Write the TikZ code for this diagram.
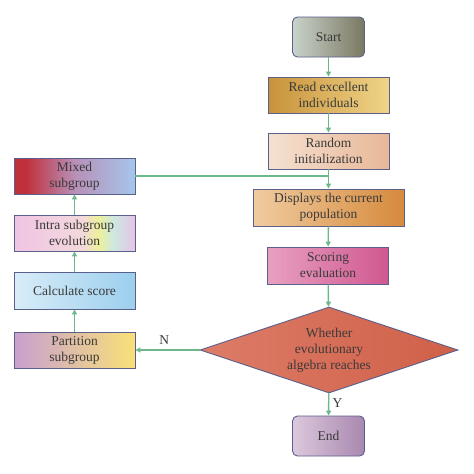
\documentclass[tikz,border=0pt]{standalone}
\usepackage{fontspec}
\setmainfont{Liberation Serif}
\usetikzlibrary{shapes.geometric,arrows.meta}
\definecolor{bord}{HTML}{5A5F8C}
\definecolor{arr}{HTML}{6CB88A}
\definecolor{txt}{HTML}{3A3A3A}
\definecolor{HLc1}{HTML}{F0C4E4}
\definecolor{HLc2}{HTML}{F2D8DC}
\definecolor{HLc3}{HTML}{EEF09A}
\definecolor{HLc4}{HTML}{CDE8E0}
\definecolor{HLc5}{HTML}{E4C4E8}
\definecolor{MXc1}{HTML}{C0303C}
\definecolor{MXc2}{HTML}{B890B8}
\definecolor{MXc3}{HTML}{A4C6EC}
\pgfdeclarehorizontalshading{intrashade}{100bp}{color(0bp)=(HLc1); color(25bp)=(HLc1); color(53bp)=(HLc2); color(60bp)=(HLc3); color(66bp)=(HLc4); color(75bp)=(HLc5); color(100bp)=(HLc5)}
\pgfdeclarehorizontalshading{mixedshade}{100bp}{color(0bp)=(MXc1); color(25bp)=(MXc1); color(30bp)=(MXc1); color(50bp)=(MXc2); color(75bp)=(MXc3); color(100bp)=(MXc3)}
\tikzset{
  box/.style={draw=bord, line width=0.9pt, minimum width=121pt, minimum height=36pt, align=center, text=txt, font=\fontsize{13.5}{16}\selectfont, inner sep=1pt},
  term/.style={box, rounded corners=5pt, minimum width=72pt, minimum height=40pt},
  flow/.style={draw=arr, line width=1.4pt, -{Triangle[length=5pt,width=5pt]}},
  flowline/.style={draw=arr, line width=1.4pt},
  lab/.style={text=txt, font=\fontsize{13.5}{16}\selectfont}
}
\begin{document}
\begin{tikzpicture}[x=1pt,y=-1pt]
\useasboundingbox (0,0) rectangle (474,474);
\fill[white] (0,0) rectangle (474,474);
\node[term, left color={rgb,255:red,201;green,211;blue,203}, right color={rgb,255:red,122;green,120;blue,96}] (start) at (328.5,37) {Start};
\node[box, left color={rgb,255:red,200;green,146;blue,58}, right color={rgb,255:red,240;green,212;blue,136}] (read) at (328.5,95) {Read excellent\\individuals};
\node[box, left color={rgb,255:red,245;green,224;blue,208}, right color={rgb,255:red,232;green,184;blue,152}] (rand) at (328.5,151) {Random\\initialization};
\node[box, minimum width=151pt, minimum height=37pt, left color={rgb,255:red,240;green,204;blue,160}, right color={rgb,255:red,214;green,138;blue,60}] (disp) at (328.5,207.5) {Displays the current\\population};
\node[box, minimum height=37pt, left color={rgb,255:red,232;green,160;blue,192}, right color={rgb,255:red,208;green,88;blue,144}] (score) at (328,265.5) {Scoring\\evaluation};
\node[draw=bord, line width=0.9pt, diamond, aspect=3, minimum width=258pt, minimum height=86pt, inner sep=0pt, left color={rgb,255:red,220;green,124;blue,104}, right color={rgb,255:red,208;green,96;blue,72}, align=center, text=txt, font=\fontsize{13.5}{16}\selectfont] (dec) at (329,350) {Whether\\evolutionary\\algebra reaches};
\node[term, minimum height=40pt, left color={rgb,255:red,220;green,200;blue,220}, right color={rgb,255:red,168;green,136;blue,176}] (end) at (328.5,436) {End};
\node[box, shading=mixedshade] (mixed) at (74.5,176) {Mixed\\subgroup};
\node[box, shading=intrashade] (intra) at (74.5,233) {Intra subgroup\\evolution};
\node[box, minimum height=37pt, left color={rgb,255:red,216;green,236;blue,248}, right color={rgb,255:red,156;green,207;blue,238}] (calc) at (74.5,290.5) {Calculate score};
\node[box, left color={rgb,255:red,200;green,160;blue,208}, right color={rgb,255:red,248;green,224;blue,120}] (part) at (74.5,350) {Partition\\subgroup};
\coordinate (junc) at (328.5,176);
\draw[flow] (start) -- (read);
\draw[flow] (read) -- (rand);
\draw[flow] (rand) -- (disp);
\draw[flow] (disp) -- (score);
\draw[flow] (score) -- (dec);
\draw[flow] (dec) -- node[lab, right, pos=0.45] {Y} (end);
\draw[flow] (dec.west) -- node[lab, above, pos=0.55, yshift=1pt] {N} (part.east);
\draw[flow] (part) -- (calc);
\draw[flow] (calc) -- (intra);
\draw[flow] (intra) -- (mixed);
\draw[flowline] (mixed.east) -- (junc);
\end{tikzpicture}
\end{document}
